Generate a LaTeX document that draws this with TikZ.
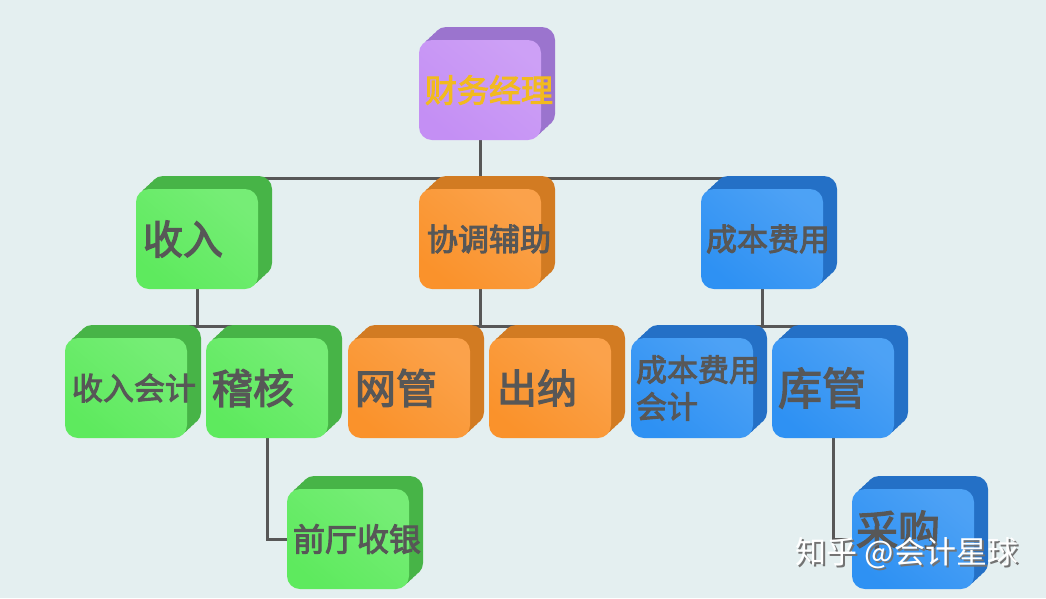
\documentclass[tikz,border=0pt]{standalone}
\usepackage{fontspec}
\newfontfamily\cjk{Noto Sans CJK SC}[FakeBold=3]
\newfontfamily\cjkwm{Noto Sans CJK SC}
\usetikzlibrary{positioning}
\pgfdeclarelayer{bg}
\pgfdeclarelayer{lines}
\pgfsetlayers{bg,lines,main}
\definecolor{bgcol}{HTML}{E4EFF0}
\definecolor{purpf}{HTML}{C48FF4}
\definecolor{purpb}{HTML}{9B74CE}
\definecolor{grnf}{HTML}{5EEA5E}
\definecolor{grnb}{HTML}{47B447}
\definecolor{orgf}{HTML}{FA922B}
\definecolor{orgb}{HTML}{D27B22}
\definecolor{bluf}{HTML}{2E91F3}
\definecolor{blub}{HTML}{2470C6}
\definecolor{txtgray}{HTML}{575757}
\definecolor{gold}{HTML}{F2BA1E}
\definecolor{linegray}{HTML}{575757}
\tikzset{
  blk/.style 2 args={draw=none, rounded corners=13pt, minimum width=122pt, minimum height=100pt, inner sep=0pt,
    preaction={fill=#2, transform canvas={shift={(14pt,13pt)}}},
    preaction={fill=#2, transform canvas={shift={(10.5pt,9.75pt)}}},
    preaction={fill=#2, transform canvas={shift={(7pt,6.5pt)}}},
    preaction={fill=#2, transform canvas={shift={(3.5pt,3.25pt)}}},
    top color=#1!85!white, bottom color=#1, shading angle=-40},
  lbl/.style={anchor=west, inner sep=0pt, text=txtgray, font=\cjk\fontsize{#1}{#1}\selectfont},
  conn/.style={draw=linegray, line width=3pt},
}
\begin{document}
\begin{tikzpicture}[x=1pt,y=-1pt]
                \useasboundingbox (0,0) rectangle (1046,598);
                \begin{pgfonlayer}{bg}
                \fill[bgcol] (0,0) rectangle (1046,598);
                \end{pgfonlayer}
                %%%  Boxes, front face centres
                \node[blk={purpf}{purpb}] (cw) at (480,90) {};
                \node[blk={grnf}{grnb}] (sr) at (197,239) {};
                \node[blk={orgf}{orgb}] (xt) at (480,239) {};
                \node[blk={bluf}{blub}] (cb) at (762,239) {};
                \node[blk={grnf}{grnb}] (srkj) at (126,388) {};
                \node[blk={grnf}{grnb}] (jh) at (267,388) {};
                \node[blk={orgf}{orgb}] (wg) at (409,388) {};
                \node[blk={orgf}{orgb}] (cn) at (550,388) {};
                \node[blk={bluf}{blub}] (cbkj) at (692,388) {};
                \node[blk={bluf}{blub}] (kg) at (833,388) {};
                \node[blk={grnf}{grnb}] (qt) at (348,539) {};
                \node[blk={bluf}{blub}] (cg) at (913,539) {};
                %%% Labels
                \node[lbl=32, text=gold] (cwt) at ([xshift=6pt]cw.west) {财务经理};
                \node[lbl=40] (srt) at ([xshift=7pt]sr.west) {收入};
                \node[lbl=31] (xtt) at ([xshift=8pt]xt.west) {协调辅助};
                \node[lbl=31] (cbt) at ([xshift=5pt]cb.west) {成本费用};
                \node[lbl=31] (srkjt) at ([xshift=7pt]srkj.west) {收入会计};
                \node[lbl=41] (jht) at ([xshift=6pt]jh.west) {稽核};
                \node[lbl=41] (wgt) at ([xshift=7pt]wg.west) {网管};
                \node[lbl=40] (cnt) at ([xshift=8pt]cn.west) {出纳};
                \node[lbl=31, align=left, font=\cjk\fontsize{31}{37}\selectfont] (cbkjt) at ([xshift=5pt]cbkj.west) {成本费用\\会计};
                \node[lbl=44] (kgt) at ([xshift=6pt]kg.west) {库管};
                \node[lbl=32] (qtt) at ([xshift=6pt]qt.west) {前厅收银};
                \node[lbl=42] (cgt) at ([xshift=4pt,yshift=9pt]cg.west) {采购};
                %%% Watermark
                \node[font=\cjkwm\fontsize{31}{31}\selectfont, text=black!55] (wms) at (909,555) {知乎 @会计星球};
                \node[font=\cjkwm\fontsize{31}{31}\selectfont, text=white] (wm) at (907,553) {知乎 @会计星球};
                %%% Connectors, behind the boxes
                \begin{pgfonlayer}{lines}
                \draw[conn] (cw.south) -- ++(0,38) -| (sr.north);
                \draw[conn] (cw.south) -- ++(0,38) -| (cb.north);
                \draw[conn] (sr.south) -- ++(0,37) -| (srkj.north);
                \draw[conn] (sr.south) -- ++(0,37) -| (jh.north);
                \draw[conn] (xt.south) -- ++(0,37) -| (wg.north);
                \draw[conn] (xt.south) -- ++(0,37) -| (cn.north);
                \draw[conn] (cb.south) -- ++(0,37) -| (cbkj.north);
                \draw[conn] (cb.south) -- ++(0,37) -| (kg.north);
                \draw[conn] (jh.south) |- (qt.west);
                \draw[conn] (kg.south) |- (cg.west);
                \end{pgfonlayer}
\end{tikzpicture}
\end{document}
